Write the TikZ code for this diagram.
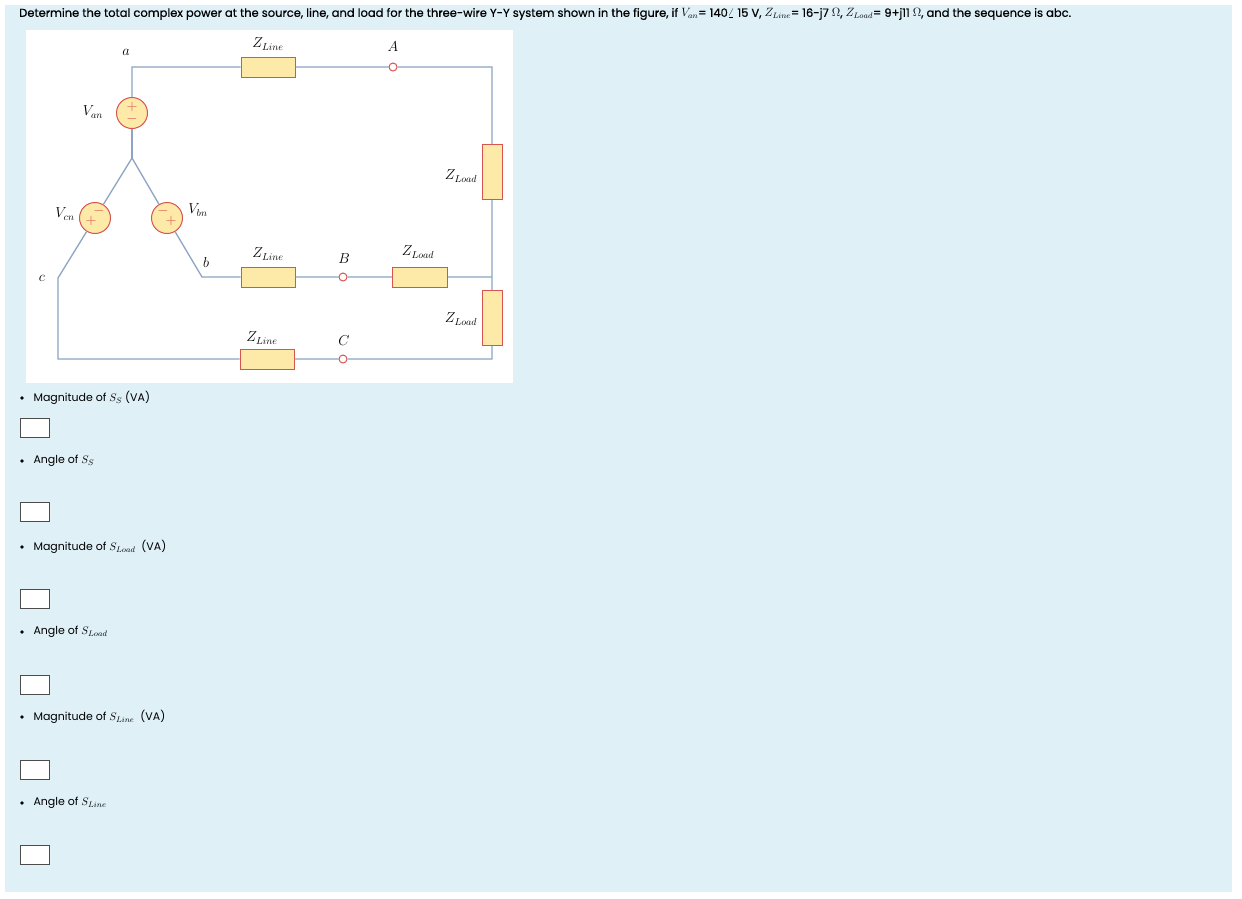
\documentclass[tikz,border=0pt]{standalone}
\usepackage{fontspec}
\setmainfont{Poppins}
\newfontfamily\pbold[FakeBold=0.6]{Poppins}
\usepackage{amsmath}
\begin{document}
\begin{tikzpicture}[x=1pt,y=-1pt,
  wire/.style={draw=wirec,line width=1.3pt},
  imp/.style={draw=redc,fill=yelc,line width=1pt,inner sep=0pt},
  src/.style={circle,draw=redc,fill=yelc,line width=1pt,minimum size=31pt,inner sep=0pt},
  term/.style={circle,draw=redc,fill=white,line width=1pt,minimum size=8pt,inner sep=0pt},
  lab/.style={font=\fontsize{14.5}{15}\selectfont},
  sg/.style={text=redc,font=\fontsize{15}{15}\selectfont,inner sep=0pt},
  q/.style={font=\fontsize{11}{12}\selectfont,anchor=west},
  ans/.style={draw=black!70,fill=white,line width=0.8pt,minimum width=29pt,minimum height=19pt,inner sep=0pt}]
\definecolor{wirec}{HTML}{8DA5C2}
\definecolor{redc}{HTML}{D9534F}
\definecolor{yelc}{HTML}{FDE9A8}
\definecolor{bgc}{HTML}{DFF0F7}
\useasboundingbox (0,0) rectangle (1242,898);
\fill[white] (0,0) rectangle (1242,898);
\fill[bgc] (5,5) rectangle (1232,892);
\fill[white] (26,30) rectangle (513,383);
\node[anchor=west,font=\pbold\fontsize{11.5}{12}\selectfont,inner sep=0pt] (title) at (19,14) {Determine the total complex power at the source, line, and load for the three-wire Y-Y system shown in the figure, if $V_{an}$= 140$\angle$ 15 V, $Z_{Line}$= 16-j7 $\Omega$, $Z_{Load}$= 9+j11 $\Omega$, and the sequence is abc.};
% coordinates
\coordinate (a) at (132,67);
\coordinate (tr) at (492,67);
\coordinate (n) at (132,158);
\coordinate (c) at (58,278);
\coordinate (b) at (202,277);
\coordinate (mr) at (492,277);
\coordinate (bl) at (58,359);
\coordinate (br) at (492,359);
\node[src] (van) at (132,113) {};
\node[src] (vcn) at (95,218) {};
\node[src] (vbn) at (167,218) {};
\node[imp,minimum width=54pt,minimum height=20pt] (zl1) at (268,67) {};
\node[imp,minimum width=54pt,minimum height=20pt] (zl2) at (268,277) {};
\node[imp,minimum width=54pt,minimum height=20pt] (zl3) at (267,359) {};
\node[imp,minimum width=55pt,minimum height=20pt] (zd2) at (420,277) {};
\node[imp,minimum width=20pt,minimum height=55pt] (zd1) at (492,172) {};
\node[imp,minimum width=20pt,minimum height=55pt] (zd3) at (492,318) {};
\node[term] (A) at (393,67) {};
\node[term] (B) at (343,277) {};
\node[term] (C) at (343,359) {};
% wires
\draw[wire] (van) -- (a) -- (zl1) -- (A) -- (tr) -- (zd1) -- (mr) -- (zd3) -- (br) -- (C) -- (zl3) -- (bl) -- (c) -- (vcn) -- (n) -- (vbn) -- (b) -- (zl2) -- (B) -- (zd2) -- (mr);
\draw[wire] (van) -- (n);
% signs
\node[sg] at (132,107) {$+$};
\node[sg] at (132,119) {$-$};
\node[sg] at (99,211) {$-$};
\node[sg] at (91,221) {$+$};
\node[sg] at (163,211) {$-$};
\node[sg] at (171,221) {$+$};
% labels
\node[lab] (la) at (126,52) {$a$};
\node[lab] (lz1) at (268,44) {$Z_{Line}$};
\node[lab] (lA) at (393,47) {$A$};
\node[lab] (lvan) at (93,112) {$V_{an}$};
\node[lab] (lzd1) at (461,176) {$Z_{Load}$};
\node[lab] (lvcn) at (65,214) {$V_{cn}$};
\node[lab] (lvbn) at (198,210) {$V_{bn}$};
\node[lab] (lz2) at (268,254) {$Z_{Line}$};
\node[lab] (lB) at (344,259) {$B$};
\node[lab] (lzd2) at (418,252) {$Z_{Load}$};
\node[lab] (lc) at (42,278) {$c$};
\node[lab] (lb) at (206,262) {$b$};
\node[lab] (lzd3) at (461,319) {$Z_{Load}$};
\node[lab] (lz3) at (262,338) {$Z_{Line}$};
\node[lab] (lC) at (344,341) {$C$};
% questions
\foreach \yy/\tx/\by/\nm in {398/{Magnitude of $S_S$ (VA)}/428/q1, 461/{Angle of $S_S$}/512/q2, 547/{Magnitude of $S_{Load}$ \;(VA)}/599/q3, 632/{Angle of $S_{Load}$}/685/q4, 717/{Magnitude of $S_{Line}$ \;(VA)}/770/q5, 803/{Angle of $S_{Line}$}/855/q6}{
  \fill (22,\yy) circle (1.8pt);
  \node[q] (\nm) at (30,\yy) {\tx};
  \node[ans] (\nm b) at (34.5,\by) {};
}
\end{tikzpicture}
\end{document}
